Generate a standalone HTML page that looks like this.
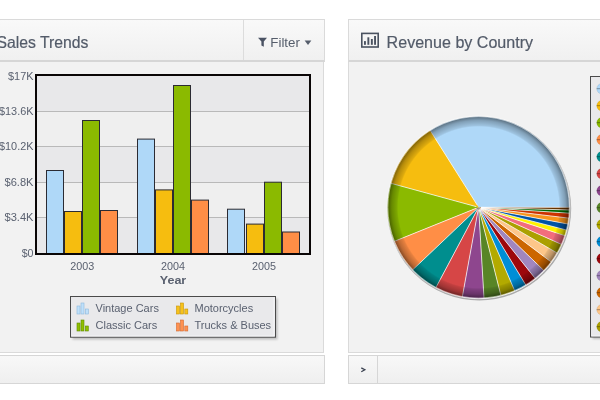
<!DOCTYPE html>
<html><head><meta charset="utf-8">
<style>
*{margin:0;padding:0;box-sizing:border-box}
html,body{width:600px;height:400px;overflow:hidden;background:#fff;font-family:"Liberation Sans",sans-serif}
.abs{position:absolute}
.hdr{position:absolute;top:19px;height:43px;border:1px solid #dadada;border-bottom:2px solid #d6d6d6;background:linear-gradient(#f9f9f9,#f0f0f0)}
.bdy{position:absolute;top:62px;height:291px;border:1px solid #dadada;border-top:none;background:#f2f2f2}
.ftr{position:absolute;top:355px;height:29px;border:1px solid #d6d6d6;background:linear-gradient(#f8f8f8,#efefef)}
.ttl{position:absolute;top:34.5px;font-size:16px;color:#535b69;white-space:nowrap;line-height:18px}
svg text{font-family:"Liberation Sans",sans-serif}
</style></head><body>
<div id="root" style="position:absolute;left:0;top:0;width:600px;height:400px;overflow:hidden;will-change:transform">
<div class="hdr" style="left:-10px;width:335px"></div>
<div class="abs" style="left:243px;top:20px;width:1px;height:40px;background:#dcdcdc"></div>
<div class="bdy" style="left:-10px;width:334px"></div>
<div class="ftr" style="left:-10px;width:335px"></div>

<div class="hdr" style="left:348px;width:262px"></div>
<div class="bdy" style="left:348px;width:262px"></div>
<div class="ftr" style="left:348px;width:262px"></div>
<div class="abs" style="left:377px;top:356px;width:1px;height:27px;background:#d6d6d6"></div>


<svg class="abs" style="left:0;top:0" width="600" height="400" viewBox="0 0 600 400">
  <path d="M361.3,367.9 L364.8,369.8 L361.3,371.7" fill="none" stroke="#3a4150" stroke-width="1.3"/>
  <g font-size="16.5" fill="#535b69" stroke="#535b69" stroke-width="0.2">
    <text x="-3.6" y="47.7" textLength="92" lengthAdjust="spacingAndGlyphs">Sales Trends</text>
    <text x="386.6" y="47.7" textLength="146.5" lengthAdjust="spacingAndGlyphs">Revenue by Country</text>
  </g>
  <!-- filter icon -->
  <path d="M258,37.8 L267,37.8 L263.8,41.4 L263.8,46.8 L261.4,45.6 L261.4,41.4 Z" fill="#4a5263"/>
  <text x="270.3" y="47" font-size="12.5" fill="#555d6b" textLength="29.6" lengthAdjust="spacingAndGlyphs">Filter</text>
  <path d="M304.6,40.4 h6.8 l-3.4,4.6 z" fill="#555d6b"/>
  <!-- chart icon -->
  <rect x="361.8" y="33.4" width="16.4" height="13.6" fill="none" stroke="#4a5260" stroke-width="1.6"/>
  <rect x="364" y="41.1" width="1.9" height="3.7" fill="#4a5260"/>
  <rect x="367.4" y="37.3" width="1.9" height="7.5" fill="#4a5260"/>
  <rect x="370.9" y="39" width="1.9" height="5.8" fill="#4a5260"/>
  <rect x="374.1" y="36" width="1.9" height="8.8" fill="#4a5260"/>

  <!-- plot bands -->
  <rect x="36" y="75" width="273" height="178" fill="#efefef"/>
  <rect x="36" y="75" width="273" height="36" fill="#e8e8ea"/>
  <rect x="36" y="146" width="273" height="36" fill="#e8e8ea"/>
  <rect x="36" y="217" width="273" height="36" fill="#e8e8ea"/>
  <g stroke="#b9b9b9" stroke-width="1">
    <line x1="36" x2="309" y1="111.5" y2="111.5"/>
    <line x1="36" x2="309" y1="146.5" y2="146.5"/>
    <line x1="36" x2="309" y1="182.5" y2="182.5"/>
    <line x1="36" x2="309" y1="217.5" y2="217.5"/>
  </g>
  <rect x="46.5" y="170.5" width="17" height="83.0" fill="#AFD8F8" stroke="#2b2b33" stroke-width="1"/><rect x="64.5" y="211.5" width="17" height="42.0" fill="#F6BD0F" stroke="#2b2b33" stroke-width="1"/><rect x="82.5" y="120.5" width="17" height="133.0" fill="#8BBA00" stroke="#2b2b33" stroke-width="1"/><rect x="100.5" y="210.5" width="17" height="43.0" fill="#FF8E46" stroke="#2b2b33" stroke-width="1"/><rect x="137.5" y="139.1" width="17" height="114.4" fill="#AFD8F8" stroke="#2b2b33" stroke-width="1"/><rect x="155.5" y="189.9" width="17" height="63.6" fill="#F6BD0F" stroke="#2b2b33" stroke-width="1"/><rect x="173.5" y="85.5" width="17" height="168.0" fill="#8BBA00" stroke="#2b2b33" stroke-width="1"/><rect x="191.5" y="200.1" width="17" height="53.4" fill="#FF8E46" stroke="#2b2b33" stroke-width="1"/><rect x="227.5" y="209.2" width="17" height="44.3" fill="#AFD8F8" stroke="#2b2b33" stroke-width="1"/><rect x="246.5" y="224.1" width="17" height="29.4" fill="#F6BD0F" stroke="#2b2b33" stroke-width="1"/><rect x="264.5" y="182.2" width="17" height="71.3" fill="#8BBA00" stroke="#2b2b33" stroke-width="1"/><rect x="282.5" y="232.0" width="17" height="21.5" fill="#FF8E46" stroke="#2b2b33" stroke-width="1"/>
  <rect x="36" y="75" width="274" height="179" fill="none" stroke="#0a0606" stroke-width="2"/>
  <g font-size="10" fill="#5a6170" text-anchor="end">
    <text x="33.5" y="80" textLength="25.5" lengthAdjust="spacingAndGlyphs">$17K</text>
    <text x="33.5" y="115" textLength="34.5" lengthAdjust="spacingAndGlyphs">$13.6K</text>
    <text x="33.5" y="150" textLength="34.5" lengthAdjust="spacingAndGlyphs">$10.2K</text>
    <text x="33.5" y="186" textLength="29" lengthAdjust="spacingAndGlyphs">$6.8K</text>
    <text x="33.5" y="221" textLength="29" lengthAdjust="spacingAndGlyphs">$3.4K</text>
    <text x="33.5" y="257" textLength="11.8" lengthAdjust="spacingAndGlyphs">$0</text>
  </g>
  <g font-size="10.5" fill="#5a6170" text-anchor="middle">
    <text x="82.2" y="269.5" textLength="24" lengthAdjust="spacingAndGlyphs">2003</text>
    <text x="173" y="269.5" textLength="24" lengthAdjust="spacingAndGlyphs">2004</text>
    <text x="264" y="269.5" textLength="24" lengthAdjust="spacingAndGlyphs">2005</text>
    <text x="173" y="284" font-weight="bold" font-size="10.5" textLength="26.5" lengthAdjust="spacingAndGlyphs">Year</text>
  </g>
  <defs><filter id="lsh" x="-10%" y="-20%" width="120%" height="140%"><feGaussianBlur stdDeviation="1"/></filter></defs>
  <!-- legend -->
  <rect x="72.5" y="298.5" width="205" height="41" fill="#000" opacity=".22" filter="url(#lsh)"/>
  <rect x="70.5" y="296.5" width="205" height="40.7" fill="#e9e9eb" stroke="#4a4a4a" stroke-width="1"/>
  <path d="M71.5,336 H274 V297.5" fill="none" stroke="#fff" stroke-opacity=".6" stroke-width="1"/>
  <rect x="77" y="306" width="3" height="8" fill="#bfe0fa" stroke="#8db8dc" stroke-width="0.6"/><rect x="81" y="303" width="3" height="11" fill="#bfe0fa" stroke="#8db8dc" stroke-width="0.6"/><rect x="85.3" y="309" width="3" height="5" fill="#bfe0fa" stroke="#8db8dc" stroke-width="0.6"/><rect x="77" y="323" width="3" height="8" fill="#8fbf00" stroke="#5f8a00" stroke-width="0.6"/><rect x="81" y="320" width="3" height="11" fill="#8fbf00" stroke="#5f8a00" stroke-width="0.6"/><rect x="85.3" y="326" width="3" height="5" fill="#8fbf00" stroke="#5f8a00" stroke-width="0.6"/><rect x="176.5" y="306" width="3" height="8" fill="#f7c21a" stroke="#c99400" stroke-width="0.6"/><rect x="180.5" y="303" width="3" height="11" fill="#f7c21a" stroke="#c99400" stroke-width="0.6"/><rect x="184.8" y="309" width="3" height="5" fill="#f7c21a" stroke="#c99400" stroke-width="0.6"/><rect x="176.5" y="323" width="3" height="8" fill="#ff9150" stroke="#d4682c" stroke-width="0.6"/><rect x="180.5" y="320" width="3" height="11" fill="#ff9150" stroke="#d4682c" stroke-width="0.6"/><rect x="184.8" y="326" width="3" height="5" fill="#ff9150" stroke="#d4682c" stroke-width="0.6"/>
  <g font-size="11" fill="#5a6170">
    <text x="95.5" y="312">Vintage Cars</text>
    <text x="95.5" y="329">Classic Cars</text>
    <text x="194.5" y="312">Motorcycles</text>
    <text x="194.5" y="329">Trucks &amp; Buses</text>
  </g>

  <!-- pie -->
  <defs>
    <radialGradient id="rim" cx="478.6" cy="207.3" r="90.9" gradientUnits="userSpaceOnUse">
      <stop offset="0" stop-color="#000" stop-opacity="0"/>
      <stop offset="0.885" stop-color="#000" stop-opacity="0"/>
      <stop offset="0.9" stop-color="#000" stop-opacity="0.1"/>
      <stop offset="0.955" stop-color="#000" stop-opacity="0.26"/>
      <stop offset="0.988" stop-color="#000" stop-opacity="0.44"/>
      <stop offset="1" stop-color="#000" stop-opacity="0.3"/>
    </radialGradient>
    <filter id="sh" x="-10%" y="-10%" width="120%" height="120%"><feGaussianBlur stdDeviation="0.7"/></filter>
  </defs>
  <circle cx="479.20000000000005" cy="208.5" r="91.2" fill="none" stroke="#555" stroke-width="1.6" opacity=".45" filter="url(#sh)"/>
  <path d="M478.6,207.3L569.50,207.30A90.9,90.9 0 0 0 430.16,130.38Z" fill="#AFD8F8"/><path d="M478.6,207.3L430.16,130.38A90.9,90.9 0 0 0 390.92,183.31Z" fill="#F6BD0F"/><path d="M478.6,207.3L390.92,183.31A90.9,90.9 0 0 0 394.32,241.35Z" fill="#8BBA00"/><path d="M478.6,207.3L394.32,241.35A90.9,90.9 0 0 0 412.66,269.87Z" fill="#FF8E46"/><path d="M478.6,207.3L412.66,269.87A90.9,90.9 0 0 0 435.93,287.56Z" fill="#008E8E"/><path d="M478.6,207.3L435.93,287.56A90.9,90.9 0 0 0 462.35,296.74Z" fill="#D64646"/><path d="M478.6,207.3L462.35,296.74A90.9,90.9 0 0 0 483.99,298.04Z" fill="#8E468E"/><path d="M478.6,207.3L483.99,298.04A90.9,90.9 0 0 0 500.90,295.42Z" fill="#588526"/><path d="M478.6,207.3L500.90,295.42A90.9,90.9 0 0 0 514.70,290.72Z" fill="#B3AA00"/><path d="M478.6,207.3L514.70,290.72A90.9,90.9 0 0 0 525.82,284.97Z" fill="#008ED6"/><path d="M478.6,207.3L525.82,284.97A90.9,90.9 0 0 0 535.19,278.44Z" fill="#9D080D"/><path d="M478.6,207.3L535.19,278.44A90.9,90.9 0 0 0 543.88,270.56Z" fill="#A186BE"/><path d="M478.6,207.3L543.88,270.56A90.9,90.9 0 0 0 551.20,262.00Z" fill="#CC6600"/><path d="M478.6,207.3L551.20,262.00A90.9,90.9 0 0 0 557.16,253.02Z" fill="#FDC689"/><path d="M478.6,207.3L557.16,253.02A90.9,90.9 0 0 0 561.58,244.42Z" fill="#ABA000"/><path d="M478.6,207.3L561.58,244.42A90.9,90.9 0 0 0 564.95,235.69Z" fill="#F26D7D"/><path d="M478.6,207.3L564.95,235.69A90.9,90.9 0 0 0 566.60,230.06Z" fill="#FFF200"/><path d="M478.6,207.3L566.60,230.06A90.9,90.9 0 0 0 567.95,224.02Z" fill="#0054A6"/><path d="M478.6,207.3L567.95,224.02A90.9,90.9 0 0 0 568.85,218.14Z" fill="#F7941C"/><path d="M478.6,207.3L568.85,218.14A90.9,90.9 0 0 0 569.31,213.17Z" fill="#CC3300"/><path d="M478.6,207.3L569.31,213.17A90.9,90.9 0 0 0 569.46,210.00Z" fill="#006600"/><path d="M478.6,207.3L569.46,210.00A90.9,90.9 0 0 0 569.50,207.30Z" fill="#663300"/>
  <g stroke="#fff" stroke-width="0.85" stroke-opacity="0.85"><line x1="481.10" y1="207.30" x2="569.50" y2="207.30"/><line x1="477.27" y1="205.18" x2="430.16" y2="130.38"/><line x1="476.19" y1="206.64" x2="390.92" y2="183.31"/><line x1="476.28" y1="208.24" x2="394.32" y2="241.35"/><line x1="476.79" y1="209.02" x2="412.66" y2="269.87"/><line x1="477.43" y1="209.51" x2="435.93" y2="287.56"/><line x1="478.15" y1="209.76" x2="462.35" y2="296.74"/><line x1="478.75" y1="209.80" x2="483.99" y2="298.04"/><line x1="479.21" y1="209.72" x2="500.90" y2="295.42"/><line x1="479.59" y1="209.59" x2="514.70" y2="290.72"/><line x1="479.90" y1="209.44" x2="525.82" y2="284.97"/><line x1="480.16" y1="209.26" x2="535.19" y2="278.44"/><line x1="480.40" y1="209.04" x2="543.88" y2="270.56"/><line x1="480.60" y1="208.80" x2="551.20" y2="262.00"/><line x1="480.76" y1="208.56" x2="557.16" y2="253.02"/><line x1="480.88" y1="208.32" x2="561.58" y2="244.42"/><line x1="480.97" y1="208.08" x2="564.95" y2="235.69"/><line x1="481.02" y1="207.93" x2="566.60" y2="230.06"/><line x1="481.06" y1="207.76" x2="567.95" y2="224.02"/><line x1="481.08" y1="207.60" x2="568.85" y2="218.14"/><line x1="481.09" y1="207.46" x2="569.31" y2="213.17"/><line x1="481.10" y1="207.37" x2="569.46" y2="210.00"/></g>
  <circle cx="478.6" cy="207.3" r="90.9" fill="url(#rim)"/>
  <circle cx="478.6" cy="207.3" r="90.7" fill="none" stroke="#fff" stroke-opacity=".55" stroke-width="0.8"/>
  <circle cx="478.6" cy="207.3" r="91.5" fill="none" stroke="#fff" stroke-opacity=".5" stroke-width="0.7"/>

  <!-- pie legend -->
  <rect x="592.5" y="78.5" width="20" height="260.5" fill="#000" opacity=".22" filter="url(#lsh)"/>
  <rect x="590.5" y="76.5" width="20" height="260.5" fill="#e9e9eb" stroke="#4a4a4a" stroke-width="1"/>
  <path d="M591.5,336 H610" fill="none" stroke="#fff" stroke-opacity=".6" stroke-width="1"/>
  <circle cx="601.9" cy="88.7" r="5.2" fill="#AFD8F8" stroke="rgba(0,0,0,.12)" stroke-width="0.6"/><line x1="596.7" x2="607" y1="88.7" y2="88.7" stroke="rgba(0,0,0,.5)" stroke-width="0.7"/><circle cx="601.9" cy="105.7" r="5.2" fill="#F6BD0F" stroke="rgba(0,0,0,.12)" stroke-width="0.6"/><line x1="596.7" x2="607" y1="105.7" y2="105.7" stroke="rgba(0,0,0,.5)" stroke-width="0.7"/><circle cx="601.9" cy="122.7" r="5.2" fill="#8BBA00" stroke="rgba(0,0,0,.12)" stroke-width="0.6"/><line x1="596.7" x2="607" y1="122.7" y2="122.7" stroke="rgba(0,0,0,.5)" stroke-width="0.7"/><circle cx="601.9" cy="139.7" r="5.2" fill="#FF8E46" stroke="rgba(0,0,0,.12)" stroke-width="0.6"/><line x1="596.7" x2="607" y1="139.7" y2="139.7" stroke="rgba(0,0,0,.5)" stroke-width="0.7"/><circle cx="601.9" cy="156.7" r="5.2" fill="#008E8E" stroke="rgba(0,0,0,.12)" stroke-width="0.6"/><line x1="596.7" x2="607" y1="156.7" y2="156.7" stroke="rgba(0,0,0,.5)" stroke-width="0.7"/><circle cx="601.9" cy="173.7" r="5.2" fill="#D64646" stroke="rgba(0,0,0,.12)" stroke-width="0.6"/><line x1="596.7" x2="607" y1="173.7" y2="173.7" stroke="rgba(0,0,0,.5)" stroke-width="0.7"/><circle cx="601.9" cy="190.7" r="5.2" fill="#8E468E" stroke="rgba(0,0,0,.12)" stroke-width="0.6"/><line x1="596.7" x2="607" y1="190.7" y2="190.7" stroke="rgba(0,0,0,.5)" stroke-width="0.7"/><circle cx="601.9" cy="207.7" r="5.2" fill="#588526" stroke="rgba(0,0,0,.12)" stroke-width="0.6"/><line x1="596.7" x2="607" y1="207.7" y2="207.7" stroke="rgba(0,0,0,.5)" stroke-width="0.7"/><circle cx="601.9" cy="224.7" r="5.2" fill="#B3AA00" stroke="rgba(0,0,0,.12)" stroke-width="0.6"/><line x1="596.7" x2="607" y1="224.7" y2="224.7" stroke="rgba(0,0,0,.5)" stroke-width="0.7"/><circle cx="601.9" cy="241.7" r="5.2" fill="#008ED6" stroke="rgba(0,0,0,.12)" stroke-width="0.6"/><line x1="596.7" x2="607" y1="241.7" y2="241.7" stroke="rgba(0,0,0,.5)" stroke-width="0.7"/><circle cx="601.9" cy="258.7" r="5.2" fill="#9D080D" stroke="rgba(0,0,0,.12)" stroke-width="0.6"/><line x1="596.7" x2="607" y1="258.7" y2="258.7" stroke="rgba(0,0,0,.5)" stroke-width="0.7"/><circle cx="601.9" cy="275.7" r="5.2" fill="#A186BE" stroke="rgba(0,0,0,.12)" stroke-width="0.6"/><line x1="596.7" x2="607" y1="275.7" y2="275.7" stroke="rgba(0,0,0,.5)" stroke-width="0.7"/><circle cx="601.9" cy="292.7" r="5.2" fill="#CC6600" stroke="rgba(0,0,0,.12)" stroke-width="0.6"/><line x1="596.7" x2="607" y1="292.7" y2="292.7" stroke="rgba(0,0,0,.5)" stroke-width="0.7"/><circle cx="601.9" cy="309.7" r="5.2" fill="#FDC689" stroke="rgba(0,0,0,.12)" stroke-width="0.6"/><line x1="596.7" x2="607" y1="309.7" y2="309.7" stroke="rgba(0,0,0,.5)" stroke-width="0.7"/><circle cx="601.9" cy="326.7" r="5.2" fill="#ABA000" stroke="rgba(0,0,0,.12)" stroke-width="0.6"/><line x1="596.7" x2="607" y1="326.7" y2="326.7" stroke="rgba(0,0,0,.5)" stroke-width="0.7"/>
</svg>
</div>
</body></html>
